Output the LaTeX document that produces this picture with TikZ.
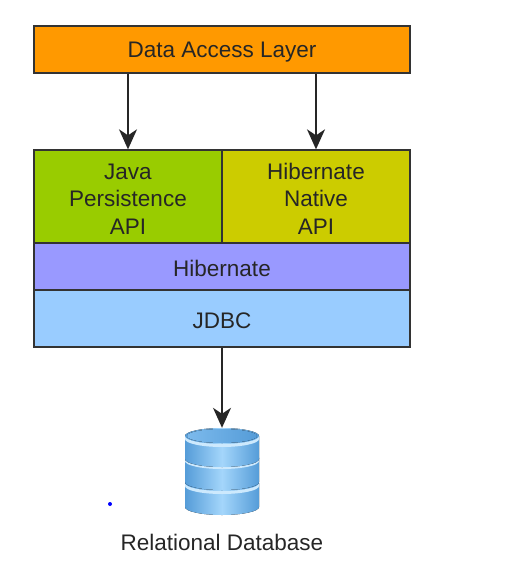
\documentclass[tikz,border=0pt]{standalone}
\usepackage{fontspec}
\setmainfont{Liberation Sans}
\usetikzlibrary{arrows.meta}

\definecolor{dalorange}{HTML}{FF9900}
\definecolor{jpagreen}{HTML}{99CC00}
\definecolor{nativeolive}{HTML}{CCCC00}
\definecolor{hibviolet}{HTML}{9999FF}
\definecolor{jdbcblue}{HTML}{99CCFF}
\definecolor{dbdark}{HTML}{559CD8}
\definecolor{dbmid}{HTML}{6BAEE6}
\definecolor{dblight}{HTML}{A4D6FB}
\newcommand{\topstrut}{\rule{0pt}{20pt}}

\begin{document}
\begin{tikzpicture}[x=1pt,y=-1pt,layer/.style={draw=black!80,line width=1.3pt,fill=#1,align=center,inner sep=0pt,font=\fontsize{22.5}{27.5}\selectfont,text=black!85},arrow/.style={-{Stealth[length=20pt,width=18pt,inset=6pt]},line width=1.6pt,draw=black!85},tier/.style={left color=dbdark,right color=dbdark,middle color=dblight,draw=none}]
\useasboundingbox (0,0) rectangle (527,572);
\node[layer=dalorange,minimum width=376pt,minimum height=47pt] (dal) at (222,49.5) {\topstrut Data Access Layer};
\node[layer=jpagreen,minimum width=188pt,minimum height=93pt] (jpa) at (128,196.5) {\topstrut Java\\Persistence\\API};
\node[layer=nativeolive,minimum width=188pt,minimum height=93pt] (native) at (316,196.5) {\topstrut Hibernate\\Native\\API};
\node[layer=hibviolet,minimum width=376pt,minimum height=47pt] (hib) at (222,266.5) {\topstrut Hibernate};
\node[layer=jdbcblue,minimum width=376pt,minimum height=57pt] (jdbc) at (222,318.5) {\topstrut JDBC};
\node[minimum width=74pt,minimum height=87pt,inner sep=0pt] (db) at (222,471.5) {};
\node[font=\fontsize{22.5}{24}\selectfont,text=black!85] (dblabel) at (222,542.5) {Relational Database};
\node[circle,fill=blue,inner sep=0pt,minimum size=4pt] (dot) at (110,504) {};
% database tiers, bottom one first
\foreach \ytop/\ybot in {483/507,458/482,436/459}{
  \fill[tier] (185,\ytop) -- (185,\ybot) arc[start angle=180,end angle=360,x radius=37,y radius=-8] -- (259,\ytop) arc[start angle=0,end angle=180,x radius=37,y radius=-8] -- cycle;
  \fill[white!45!dblight] (185,\ytop) arc[start angle=180,end angle=360,x radius=37,y radius=-8] -- ++(0,3) arc[start angle=360,end angle=180,x radius=37,y radius=-8] -- cycle;
}
\fill[left color=dbmid!70!dblight,right color=dbdark] (222,436) ellipse[x radius=35,y radius=7];
\draw[arrow] (dal.south -| jpa.north) -- (jpa.north);
\draw[arrow] (dal.south -| native.north) -- (native.north);
\draw[arrow] (jdbc) -- (db);
\end{tikzpicture}
\end{document}
